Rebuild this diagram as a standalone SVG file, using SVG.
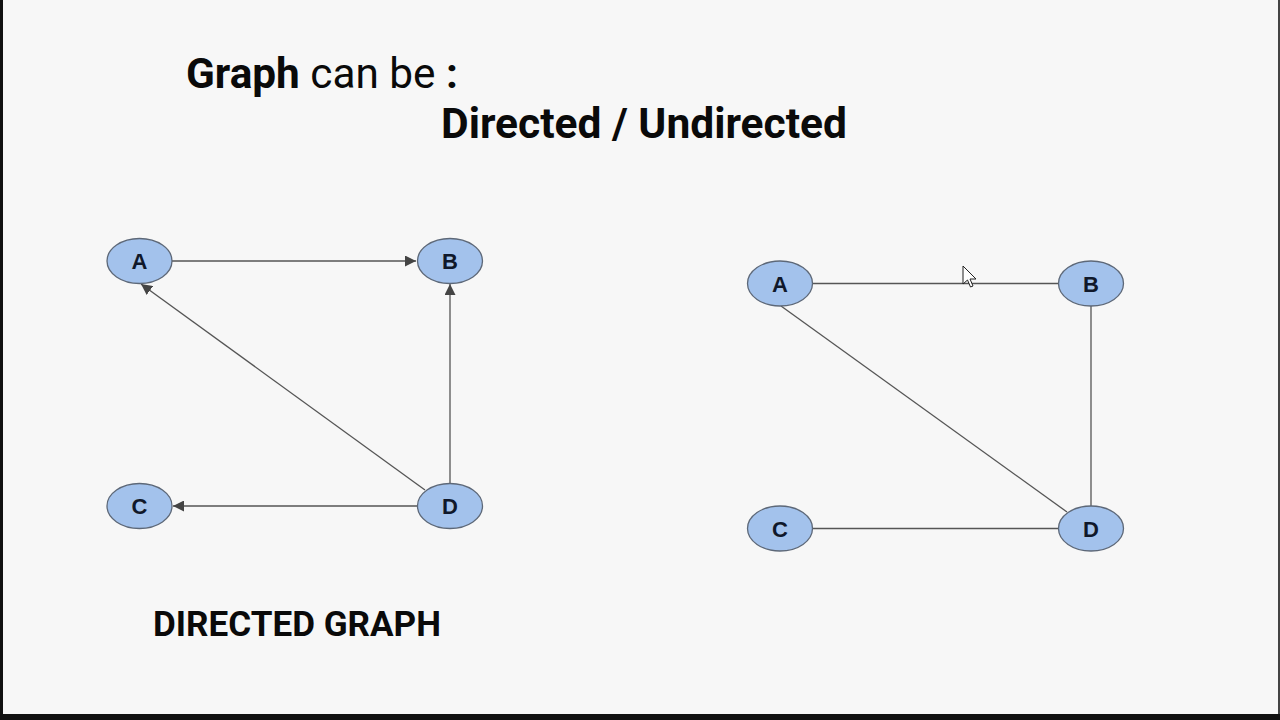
<svg xmlns="http://www.w3.org/2000/svg" width="1280" height="720" viewBox="0 0 1280 720">
<style>
.title{font-family:Roboto,"Liberation Sans",sans-serif;fill:#0a0a0a}
.node ellipse{fill:#a3c2ec;stroke:#5d6878;stroke-width:1.3}
.node text{font-family:"Liberation Sans",Arial,sans-serif;font-weight:bold;font-size:22px;fill:#10182a;text-anchor:middle}
.edge{stroke:#555;stroke-width:1.3;fill:none}
</style>
<defs>
<marker id="arr" viewBox="0 0 10 10" refX="10" refY="5" markerWidth="11" markerHeight="11" markerUnits="userSpaceOnUse" orient="auto">
<path d="M0,0 L10,5 L0,10 z" fill="#444"/>
</marker>
</defs>
<rect width="1280" height="720" fill="#f7f7f7"/>
<rect x="0" y="0" width="3" height="720" fill="#111"/>
<rect x="1278" y="0" width="2" height="720" fill="#444"/>
<rect x="0" y="714" width="1280" height="6" fill="#111"/>

<text class="title" x="186" y="88" font-size="42" textLength="272" lengthAdjust="spacingAndGlyphs"><tspan font-weight="bold">Graph</tspan> can be <tspan font-weight="bold">:</tspan></text>
<text class="title" x="441" y="138" font-size="42" font-weight="bold" textLength="406" lengthAdjust="spacingAndGlyphs">Directed / Undirected</text>
<text class="title" x="153" y="636" font-size="35" font-weight="bold" textLength="288" lengthAdjust="spacingAndGlyphs">DIRECTED GRAPH</text>

<g id="connectors">
<line class="edge" x1="172" y1="261" x2="416" y2="261" marker-end="url(#arr)"/>
<line class="edge" x1="450" y1="484" x2="450" y2="284" marker-end="url(#arr)"/>
<line class="edge" x1="425" y1="490" x2="141" y2="284" marker-end="url(#arr)"/>
<line class="edge" x1="417" y1="506" x2="173" y2="506" marker-end="url(#arr)"/>
<line class="edge" x1="813" y1="283.5" x2="1058" y2="283.5"/>
<line class="edge" x1="1091" y1="306" x2="1091" y2="506"/>
<line class="edge" x1="781" y1="306" x2="1067" y2="512"/>
<line class="edge" x1="813" y1="528.5" x2="1058" y2="528.5"/>
</g>

<g id="dA" class="node"><ellipse cx="139.5" cy="261" rx="32.5" ry="22.5"/><text x="139.5" y="269">A</text></g>
<g id="dB" class="node"><ellipse cx="450" cy="261" rx="32.5" ry="22.5"/><text x="450" y="269">B</text></g>
<g id="dC" class="node"><ellipse cx="139.5" cy="506" rx="32.5" ry="22.5"/><text x="139.5" y="514">C</text></g>
<g id="dD" class="node"><ellipse cx="450" cy="506" rx="32.5" ry="22.5"/><text x="450" y="514">D</text></g>

<g id="uA" class="node"><ellipse cx="780" cy="283.5" rx="32.5" ry="22.5"/><text x="780" y="291.5">A</text></g>
<g id="uB" class="node"><ellipse cx="1091" cy="283.5" rx="32.5" ry="22.5"/><text x="1091" y="291.5">B</text></g>
<g id="uC" class="node"><ellipse cx="780" cy="528.5" rx="32.5" ry="22.5"/><text x="780" y="536.5">C</text></g>
<g id="uD" class="node"><ellipse cx="1091" cy="528.5" rx="32.5" ry="22.5"/><text x="1091" y="536.5">D</text></g>

<path d="M963,266 L963,284 L967.5,280 L970.5,287 L973,286 L970,279 L976,279 Z" fill="#fff" stroke="#222" stroke-width="1"/>
</svg>
